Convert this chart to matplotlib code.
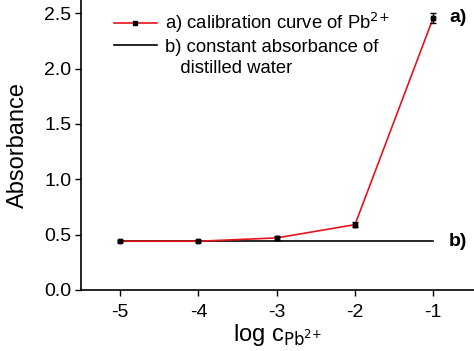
import matplotlib
matplotlib.use("Agg")
import matplotlib.pyplot as plt
from matplotlib.lines import Line2D

plt.rcParams['font.family'] = ['Liberation Sans', 'DejaVu Sans']

log_c = [-5, -4, -3, -2, -1]
absorb_a = [0.44, 0.44, 0.47, 0.59, 2.46]
err_a = [0.01, 0.01, 0.015, 0.02, 0.045]
absorb_b = [0.44, 0.44]
x_b = [-5, -1]

fig = plt.figure(figsize=(4.74, 3.51), dpi=100)
ax = fig.add_axes([0.171, 0.174, 0.829, 0.826])

la, = ax.plot(log_c, absorb_a, color='#e8141c', lw=1.2, zorder=2,
              marker='s', ms=2.5, mfc='black', mec='black')
ax.errorbar(log_c, absorb_a, yerr=err_a, fmt='none', ecolor='black',
            elinewidth=1.0, capsize=2.5, capthick=1.0, zorder=3)
ax.plot(log_c, absorb_a, 's', color='black', ms=3, zorder=4)
lb, = ax.plot(x_b, absorb_b, color='black', lw=1.2, zorder=1)
blank = Line2D([], [], color='none')

ax.set_xlim(-5.5, -0.48)
ax.set_ylim(0, 2.62)
ax.set_xticks(log_c)
ax.set_xticklabels(['-5', '-4', '-3', '-2', '-1'])
ax.set_yticks([0, 0.5, 1.0, 1.5, 2.0, 2.5])
ax.set_yticklabels(['0.0', '0.5', '1.0', '1.5', '2.0', '2.5'])
ax.spines['top'].set_visible(False)
ax.spines['right'].set_visible(False)
for s in ['left', 'bottom']:
    ax.spines[s].set_linewidth(1.2)
ax.tick_params(direction='out', length=4, width=1.0, labelsize=14, pad=3)
ax.tick_params(axis='x', pad=6)

ax.set_ylabel('Absorbance', fontsize=17, labelpad=11)
ax.set_xlabel(r'log c$_{\mathrm{Pb}^{2\!+}}$', fontsize=17, labelpad=1)

ax.text(-0.8, 2.46, 'a)', fontsize=14, fontweight='bold', ha='left', va='center')
ax.text(-0.8, 0.44, 'b)', fontsize=14, fontweight='bold', ha='left', va='center')

leg = ax.legend([la, lb, blank],
                [r'a) calibration curve of Pb$^{2\!+}$',
                 'b) constant absorbance of',
                 '   distilled water'],
                loc='upper left', bbox_to_anchor=(0.055, 1.0), frameon=False,
                fontsize=13.3, handlelength=2.33, handletextpad=0.43,
                labelspacing=0.2, borderaxespad=0.2)

fig.savefig('out.png', dpi=100)
